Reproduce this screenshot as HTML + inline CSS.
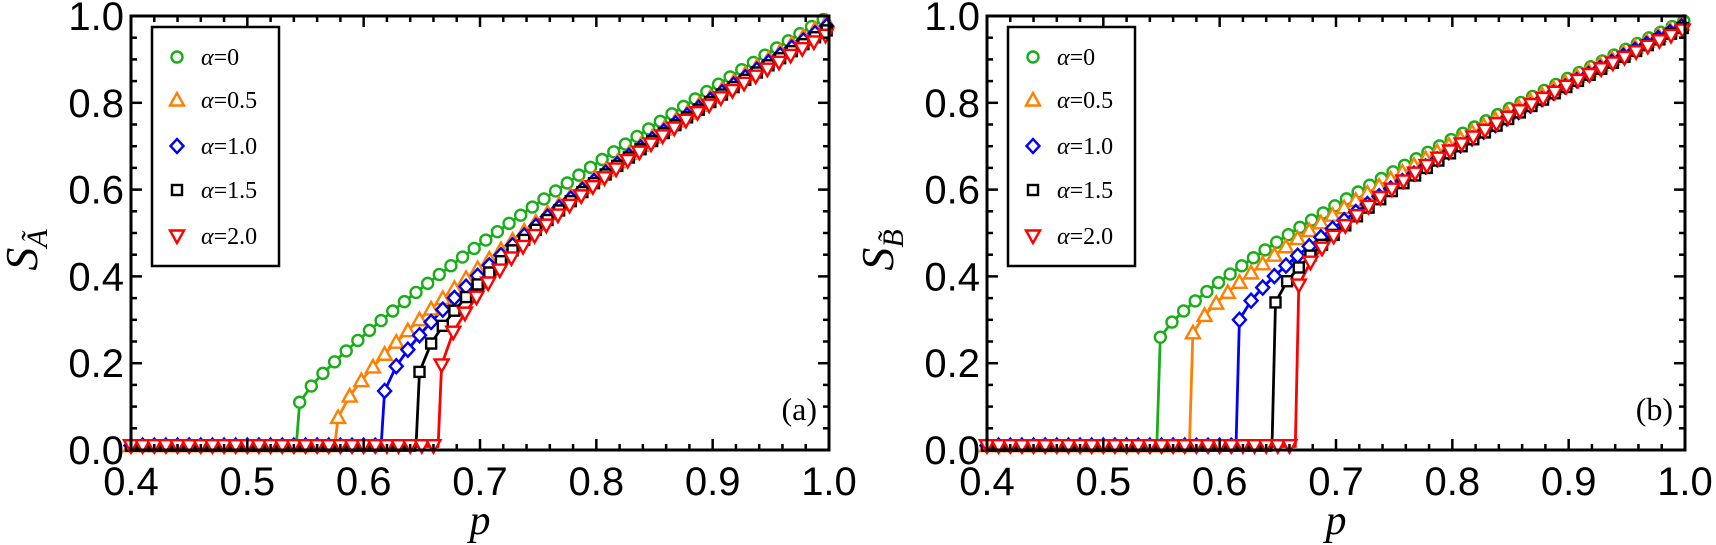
<!DOCTYPE html>
<html><head><meta charset="utf-8">
<style>
html,body{margin:0;padding:0;background:#fff;}
svg{display:block;}
</style></head>
<body>
<svg id="s" width="1716" height="545" xmlns="http://www.w3.org/2000/svg"></svg>
<script>
const svg=document.getElementById('s');
let h='';
const cols=['#1aad1a','#ff8000','#0000ff','#000000','#ff0000'];
const labs=['0','0.5','1.0','1.5','2.0'];
const Y0=450,Y1=16;
function panel(x0,x1,params,lab,ylab){
  const X=p=>x0+(p-0.4)/0.6*(x1-x0);
  const Y=s=>Y0-s*(Y0-Y1);
  let curves='',marks='';
  params.forEach((q,i)=>{
    const [pc,S0,S1,k]=q;
    const f=p=>S0+(S1-S0)*Math.pow((p-pc)/(1-pc),k);
    let pts=[[X(0.4),Y(0.008)],[X(pc-0.003),Y(0.008)]];
    let mk=[];
    for(let p=0.40;p<pc-0.005;p+=0.01) mk.push([X(p),Y(0.01)]);
    for(let p=pc;p<=1.0001;p+=0.01){pts.push([X(p),Y(f(p))]);mk.push([X(p),Y(f(p))]);}
    curves+=`<polyline fill="none" stroke="${cols[i]}" stroke-width="2.8" points="${pts.map(a=>a[0].toFixed(1)+','+a[1].toFixed(1)).join(' ')}"/>`;
    mk.forEach(m=>marks+=marker(i,m[0],m[1]));
  });
  h+=curves+marks;
  h+=`<rect x="${x0}" y="${Y1}" width="${x1-x0}" height="${Y0-Y1}" fill="none" stroke="#000" stroke-width="3"/>`;
  for(let i=0;i<=30;i++){const p=0.4+i*0.02,x=X(p),L=i%5==0?11:6;
    h+=`<line x1="${x}" y1="${Y0}" x2="${x}" y2="${Y0-L}" stroke="#000" stroke-width="2.5"/><line x1="${x}" y1="${Y1}" x2="${x}" y2="${Y1+L}" stroke="#000" stroke-width="2.5"/>`;
    if(i%5==0) h+=`<text x="${x}" y="495" font-family="Liberation Sans" font-size="40" text-anchor="middle">${p.toFixed(1)}</text>`;}
  for(let i=0;i<=20;i++){const s=i*0.05,y=Y(s),L=i%4==0?11:6;
    h+=`<line x1="${x0}" y1="${y}" x2="${x0+L}" y2="${y}" stroke="#000" stroke-width="2.5"/><line x1="${x1}" y1="${y}" x2="${x1-L}" y2="${y}" stroke="#000" stroke-width="2.5"/>`;
    if(i%4==0) h+=`<text x="${x0-7}" y="${y+14}" font-family="Liberation Sans" font-size="40" text-anchor="end">${s.toFixed(1)}</text>`;}
  h+=`<text x="${(x0+x1)/2}" y="534" font-family="Liberation Serif" font-style="italic" font-size="42" text-anchor="middle">p</text>`;
  h+=`<text transform="translate(${x0-94},250) rotate(-90)" font-family="Liberation Serif" font-style="italic" font-size="46" text-anchor="middle">S<tspan font-size="30" dy="10">${ylab}</tspan></text>`;
  h+=`<text x="${x1-12}" y="420" font-family="Liberation Serif" font-size="32" text-anchor="end">${lab}</text>`;
  const lx=x0+21;
  h+=`<rect x="${lx}" y="27" width="127" height="239" fill="#fff" stroke="#000" stroke-width="2.5"/>`;
  [57,100,146,190,236].forEach((y,i)=>{h+=marker(i,lx+25,y);
    h+=`<text x="${lx+49}" y="${y+8}" font-family="Liberation Serif" font-size="24"><tspan font-style="italic">α</tspan>=${labs[i]}</text>`;});
}
function marker(i,x,y){
  const c=cols[i],w='stroke-width="2.4" fill="#fff" stroke="'+c+'"';
  if(i==0) return `<circle cx="${x}" cy="${y}" r="5.5" ${w}/>`;
  if(i==1) return `<polygon points="${x},${y-7} ${x+7},${y+5.5} ${x-7},${y+5.5}" ${w}/>`;
  if(i==2) return `<polygon points="${x},${y-7} ${x+6.5},${y} ${x},${y+7} ${x-6.5},${y}" ${w}/>`;
  if(i==3) return `<rect x="${x-5}" y="${y-5}" width="10" height="10" ${w}/>`;
  return `<polygon points="${x-7},${y-5.5} ${x+7},${y-5.5} ${x},${y+7}" ${w}/>`;
}
panel(131,829,[[0.545,0.11,1.0,0.83],[0.578,0.075,0.99,0.78],[0.618,0.136,0.98,0.74],[0.648,0.18,0.97,0.70],[0.667,0.196,0.96,0.66]],'(a)','Ã');
panel(987,1685,[[0.549,0.26,0.99,0.8],[0.577,0.27,0.985,0.77],[0.617,0.30,0.98,0.75],[0.648,0.34,0.975,0.72],[0.668,0.38,0.97,0.69]],'(b)','B̃');
svg.innerHTML=h;
</script>
</body></html>
